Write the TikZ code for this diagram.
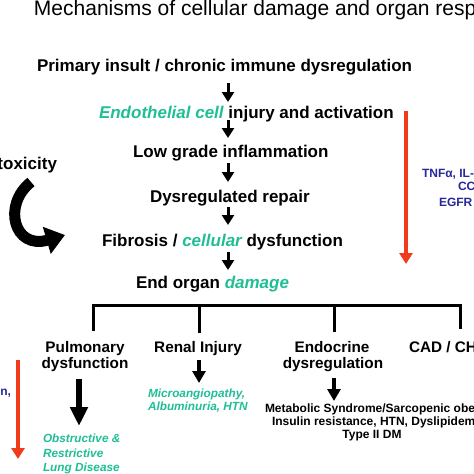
\documentclass[tikz,border=0pt]{standalone}
\usepackage{fontspec}
\setmainfont{Liberation Sans}
\usetikzlibrary{arrows.meta}
\definecolor{tealc}{RGB}{32,190,150}
\definecolor{bluec}{RGB}{40,40,155}
\definecolor{redc}{RGB}{240,60,28}
\begin{document}
\begin{tikzpicture}[x=1pt,y=-1pt,
  txt/.style={anchor=base west,inner sep=0pt,outer sep=0pt},
  big/.style={txt,font=\fontsize{17}{20}\selectfont\bfseries},
  mid/.style={anchor=base,inner sep=0pt,outer sep=0pt,font=\fontsize{15.3}{18}\selectfont\bfseries},
  sm/.style={txt,font=\fontsize{12}{14}\selectfont\bfseries},
  tl/.style={text=tealc,font=\fontsize{11.8}{13}\selectfont\bfseries\itshape},
  bl/.style={txt,text=bluec,font=\fontsize{12}{14}\selectfont\bfseries},
  flow/.style={line width=3pt,-{Triangle[width=12pt,length=10pt]}},
  sub/.style={line width=4pt,-{Triangle[width=13pt,length=12pt]}},
  redarrow/.style={draw=redc,line width=4pt,-{Triangle[width=13pt,length=11pt,fill=redc]}},
  bracket/.style={line width=3pt,line join=miter}
]
\useasboundingbox (0,0) rectangle (474,474);
\fill[white] (0,0) rectangle (474,474);

% title
\node[txt,font=\fontsize{21}{24}\selectfont] (title) at (34,15.5) {Mechanisms of cellular damage and organ resp};

% main chain
\node[big] (primary) at (37,71) {Primary insult / chronic immune dysregulation};
\node[big] (endo) at (99,118) {{\color{tealc}\itshape Endothelial cell} injury and activation};
\node[big] (low) at (133,157) {Low grade inflammation};
\node[big] (dys) at (150,202) {Dysregulated repair};
\node[big] (fib) at (102,246) {Fibrosis / {\color{tealc}\itshape cellular} dysfunction};
\node[big] (end) at (136,288) {End organ {\color{tealc}\itshape damage}};

\coordinate (a1s) at (228,83);  \coordinate (a1e) at (228,102);
\coordinate (a2s) at (228,120); \coordinate (a2e) at (228,138);
\coordinate (a3s) at (228,163); \coordinate (a3e) at (228,182);
\coordinate (a4s) at (228,207); \coordinate (a4e) at (228,225);
\coordinate (a5s) at (228,252); \coordinate (a5e) at (228,270);
\draw[flow] (a1s) -- (a1e);
\draw[flow] (a2s) -- (a2e);
\draw[flow] (a3s) -- (a3e);
\draw[flow] (a4s) -- (a4e);
\draw[flow] (a5s) -- (a5e);

% red arrows
\coordinate (r1s) at (406,111); \coordinate (r1e) at (406,264);
\draw[redarrow] (r1s) -- (r1e);
\coordinate (r2s) at (18,360); \coordinate (r2e) at (18,459);
\draw[redarrow] (r2s) -- (r2e);

% blue texts
\node[bl] (tnf) at (422,177) {TNFα, IL-};
\node[bl] (cc) at (458,190) {CC};
\node[bl] (egfr) at (439,206) {EGFR};
\node[bl,anchor=base east] (nn) at (11,395) {n,};

% toxicity and curved arrow
\node[big,anchor=base east] (tox) at (57,169) {toxicity};
\coordinate (cs) at (31,182); \coordinate (ce) at (65,235);
\draw[line width=11pt,-{Triangle[width=27pt,length=19pt]}] (cs) .. controls (2,205) and (14,250) .. (ce);

% bracket
\coordinate (b1) at (93,331); \coordinate (b4) at (460,329);
\coordinate (b2) at (199,333); \coordinate (b3) at (334,332);
\draw[bracket] (b1) |- (460,305) -- (b4);
\draw[bracket] (b2) -- (199,305);
\draw[bracket] (b3) -- (334,305);

% organ level
\node[mid] (pulm1) at (85,352) {Pulmonary};
\node[mid] (pulm2) at (85,368) {dysfunction};
\node[mid] (renal) at (198,352) {Renal Injury};
\node[mid] (endoc1) at (332,352) {Endocrine};
\node[mid] (endoc2) at (333,368) {dysregulation};
\node[mid,anchor=base west] (cad) at (409,352) {CAD / CH};

\coordinate (p1) at (79,379); \coordinate (p2) at (79,426);
\draw[line width=5.5pt,-{Triangle[width=17pt,length=19pt]}] (p1) -- (p2);
\coordinate (rn1) at (199,360); \coordinate (rn2) at (199,383);
\draw[sub] (rn1) -- (rn2);
\coordinate (en1) at (334,378); \coordinate (en2) at (334,401);
\draw[sub] (en1) -- (en2);

% outcomes
\node[txt,tl] (micro1) at (148,397) {Microangiopathy,};
\node[txt,tl] (micro2) at (148,410) {Albuminuria, HTN};
\node[txt,tl] (obs1) at (43,442) {Obstructive \&};
\node[txt,tl] (obs2) at (43,457) {Restrictive};
\node[txt,tl] (obs3) at (43,471) {Lung Disease};
\node[sm] (met1) at (265,412) {Metabolic Syndrome/Sarcopenic obe};
\node[sm] (met2) at (272,425) {Insulin resistance, HTN, Dyslipidem};
\node[sm,anchor=base] (met3) at (372,438) {Type II DM};
\end{tikzpicture}
\end{document}
